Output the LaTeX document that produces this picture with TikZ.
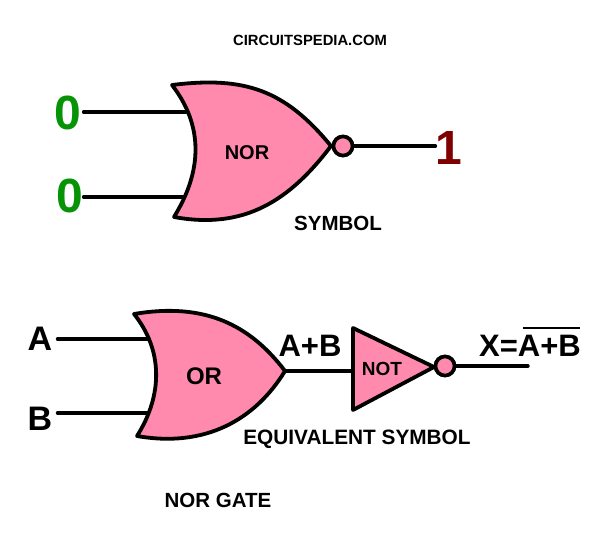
\documentclass[tikz,border=0pt]{standalone}
\usepackage{amsmath}
\usepackage{fontspec}
\usepackage{xcolor}
\setmainfont{Liberation Sans}
\definecolor{gatepink}{HTML}{FF8AAE}
\definecolor{zerogreen}{HTML}{069406}
\definecolor{onered}{HTML}{800000}

\begin{document}
\begin{tikzpicture}[x=1pt,y=-1pt]
        \tikzstyle{every node}=[font=\bfseries, inner sep=0pt, text=black]
        \tikzstyle{wire}=[draw, line width=3.4pt, line cap=round]
        \tikzstyle{gate}=[draw, fill=gatepink, line width=3.8pt, line join=round, line cap=round]
        \tikzstyle{bubble}=[circle, draw, fill=gatepink, line width=3.6pt, minimum size=19pt]
        \useasboundingbox (0,0) rectangle (600,556);

        % Title and captions
        \node (title) at (310,40) {\fontsize{14.8}{16}\selectfont CIRCUITSPEDIA.COM};
        \node (symbol) at (338,223) {\fontsize{20.5}{22}\selectfont SYMBOL};
        \node (equiv) at (357,439) {\fontsize{20.8}{22}\selectfont EQUIVALENT SYMBOL};
        \node (norgate) at (218,500) {\fontsize{20.5}{22}\selectfont NOR GATE};

        % Top gate points
        \coordinate (nortl) at (172,85);
        \coordinate (norbl) at (174,217);
        \coordinate (nortip) at (331,146);
        \coordinate (norin1) at (186,112);
        \coordinate (norin2) at (186,197);

        % Bottom gate points
        \coordinate (ortl) at (134,314);
        \coordinate (orbl) at (137,436);
        \coordinate (ortip) at (285,371);
        \coordinate (orin1) at (148,339);
        \coordinate (orin2) at (147,413);

        % Inverter points
        \coordinate (nottop) at (353,328);
        \coordinate (notbot) at (353,410);
        \coordinate (nottip) at (434,367);
        \coordinate (notin) at (353,371);

        % Nodes
        \node (zero1) [text=zerogreen] at (68,113) {\fontsize{48}{50}\selectfont 0};
        \node (zero2) [text=zerogreen] at (70,196) {\fontsize{48}{50}\selectfont 0};
        \node (one) [text=onered] at (449,148) {\fontsize{48}{50}\selectfont 1};
        \node (norbub) [bubble] at (343,146) {};
        \node (notbub) [bubble] at (445,366) {};
        \node (a) at (40,339) {\fontsize{34}{36}\selectfont A};
        \node (b) at (40,419) {\fontsize{34}{36}\selectfont B};
        \node (aplusb) at (310,346) {\fontsize{31}{33}\selectfont A+B};
        \node (xout) [anchor=base] at (530,356) {\fontsize{31}{33}\selectfont X=\rlap{\hspace{5pt}\rule[27pt]{57pt}{2pt}}A+B};
        \coordinate (xend) at (528,366);

        % Edges
        \draw[wire] (zero1.east) ++(2,-1) -- (norin1);
        \draw[wire] (zero2.east) ++(0,1) -- (norin2);
        \draw[wire] (norbub) -- (one.west |- norbub);
        \draw[wire] (a.east) ++(5,0) -- (orin1);
        \draw[wire] (b.east) ++(5,-6) -- (orin2);
        \draw[wire] (ortip) -- (notin);
        \draw[wire] (notbub) -- (xend);

        % Gates
        \draw[gate] (nortl) .. controls (245,76) and (285,90) .. (nortip)
            .. controls (290,200) and (245,230) .. (norbl)
            .. controls (203,170) and (203,125) .. (nortl) -- cycle;
        \draw[gate] (ortl) .. controls (205,302) and (250,325) .. (ortip)
            .. controls (255,420) and (205,448) .. (orbl)
            .. controls (163,395) and (163,350) .. (ortl) -- cycle;
        \draw[gate] (nottop) -- (nottip) -- (notbot) -- cycle;
        \node (norbub2) [bubble] at (norbub) {};
        \node (notbub2) [bubble] at (notbub) {};

        % Gate labels
        \node (norlbl) at (247,153) {\fontsize{20}{22}\selectfont NOR};
        \node (orlbl) at (204,376) {\fontsize{24}{26}\selectfont OR};
        \node (notlbl) at (382,369) {\fontsize{19}{22}\selectfont NOT};

    \end{tikzpicture}
\end{document}
